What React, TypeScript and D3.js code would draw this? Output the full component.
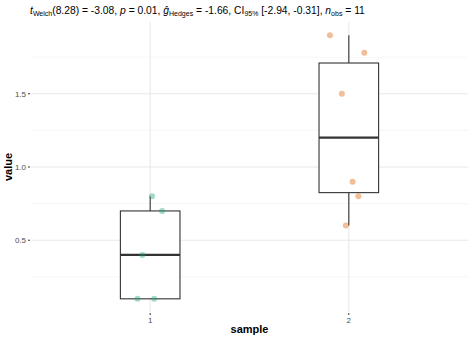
import * as d3 from 'd3';
import React from 'react';

// observations per sample group, with horizontal jitter (in category units)
const groups = ['1', '2'];
const group1Values = [0.8, 0.7, 0.4, 0.1, 0.1];
const group1Jitter = [0.009, 0.06, -0.039, -0.064, 0.02];
const group2Values = [1.9, 1.78, 1.5, 0.9, 0.8, 0.6];
const group2Jitter = [-0.095, 0.078, -0.035, 0.019, 0.048, -0.015];
const groupColors = ['#1b9e77', '#d95f02'];
const yTicks = [0.5, 1.0, 1.5];
const yMinorTicks = [0.25, 0.75, 1.25, 1.75];

const W = 474;
const H = 338;
const margin = { top: 22, right: 6, bottom: 26, left: 31 };

function quantile7(sorted: number[], p: number) {
  return d3.quantileSorted(sorted, p) as number;
}

export default function App() {
  const series = [
    { name: groups[0], values: group1Values, jitter: group1Jitter, color: groupColors[0] },
    { name: groups[1], values: group2Values, jitter: group2Jitter, color: groupColors[1] },
  ];
  const all = series.flatMap(s => s.values);
  const lo = d3.min(all) as number;
  const hi = d3.max(all) as number;
  const pad = (hi - lo) * 0.05;

  const y = d3
    .scaleLinear()
    .domain([lo - pad, hi + pad])
    .range([H - margin.bottom, margin.top]);

  // discrete axis with 0.6 expansion on each side
  const x = d3
    .scaleLinear()
    .domain([0.4, groups.length + 0.6])
    .range([margin.left, W - margin.right]);

  const boxHalf = (x(1.15) - x(1)) as number;
  const font = '"Liberation Sans", Arial, sans-serif';

  return (
    <svg width={W} height={H} style={{ position: 'absolute', left: 0, top: 0, background: '#fff' }} fontFamily={font}>
      {/* grid */}
      {yMinorTicks.map(t => (
        <line key={'mn' + t} x1={margin.left} x2={W - margin.right} y1={y(t)} y2={y(t)} stroke="#f0f0f0" strokeWidth={0.6} />
      ))}
      {yTicks.map(t => (
        <line key={'mj' + t} x1={margin.left} x2={W - margin.right} y1={y(t)} y2={y(t)} stroke="#e8e8e8" strokeWidth={1.1} />
      ))}
      {groups.map((g, i) => (
        <line key={'vx' + g} x1={x(i + 1)} x2={x(i + 1)} y1={margin.top} y2={H - margin.bottom} stroke="#e8e8e8" strokeWidth={1.1} />
      ))}

      {/* boxplots */}
      {series.map((s, i) => {
        const sorted = [...s.values].sort(d3.ascending);
        const q1 = quantile7(sorted, 0.25);
        const med = quantile7(sorted, 0.5);
        const q3 = quantile7(sorted, 0.75);
        const iqr = q3 - q1;
        const wLo = d3.min(sorted.filter(v => v >= q1 - 1.5 * iqr)) as number;
        const wHi = d3.max(sorted.filter(v => v <= q3 + 1.5 * iqr)) as number;
        const cx = x(i + 1);
        return (
          <g key={'box' + s.name} stroke="#333333" fill="none">
            <line x1={cx} x2={cx} y1={y(q3)} y2={y(wHi)} strokeWidth={1.1} />
            <line x1={cx} x2={cx} y1={y(q1)} y2={y(wLo)} strokeWidth={1.1} />
            <rect x={cx - boxHalf} y={y(q3)} width={boxHalf * 2} height={y(q1) - y(q3)} fill="#fff" strokeWidth={1.1} />
            <line x1={cx - boxHalf} x2={cx + boxHalf} y1={y(med)} y2={y(med)} strokeWidth={2.2} />
          </g>
        );
      })}

      {/* points */}
      {series.map((s, i) =>
        s.values.map((v, j) => (
          <circle key={'pt' + i + '-' + j} cx={x(i + 1 + s.jitter[j])} cy={y(v)} r={3} fill={s.color} fillOpacity={0.4} />
        ))
      )}

      {/* y axis */}
      {yTicks.map(t => (
        <g key={'yt' + t}>
          <line x1={margin.left - 3} x2={margin.left - 1} y1={y(t)} y2={y(t)} stroke="#333" strokeWidth={1} />
          <text x={margin.left - 5} y={y(t)} dy="0.35em" textAnchor="end" fontSize={8} fill="#4d4d4d">
            {d3.format('.1f')(t)}
          </text>
        </g>
      ))}
      {/* x axis */}
      {groups.map((g, i) => (
        <g key={'xt' + g}>
          <line x1={x(i + 1)} x2={x(i + 1)} y1={H - margin.bottom + 1} y2={H - margin.bottom + 3} stroke="#333" strokeWidth={1} />
          <text x={x(i + 1)} y={H - margin.bottom + 11} textAnchor="middle" fontSize={8} fill="#4d4d4d">
            {g}
          </text>
        </g>
      ))}

      <text x={(margin.left + W - margin.right) / 2} y={H - 5} textAnchor="middle" fontSize={11} fontWeight="bold" fill="#000">
        sample
      </text>
      <text transform={`translate(12,${(margin.top + H - margin.bottom) / 2}) rotate(-90)`} textAnchor="middle" fontSize={11} fontWeight="bold" fill="#000">
        value
      </text>

      {/* subtitle with statistics */}
      <text x={30} y={14} fontSize={10.3} fill="#000">
        <tspan fontStyle="italic">t</tspan>
        <tspan fontSize={7} dy={2}>Welch</tspan>
        <tspan dy={-2}>(8.28) = -3.08, </tspan>
        <tspan fontStyle="italic">p</tspan>
        <tspan> = 0.01, </tspan>
        <tspan fontStyle="italic">ĝ</tspan>
        <tspan fontSize={7} dy={2}>Hedges</tspan>
        <tspan dy={-2}> = -1.66, CI</tspan>
        <tspan fontSize={7} dy={2}>95%</tspan>
        <tspan dy={-2}> [-2.94, -0.31], </tspan>
        <tspan fontStyle="italic">n</tspan>
        <tspan fontSize={7} dy={2}>obs</tspan>
        <tspan dy={-2}> = 11</tspan>
      </text>
    </svg>
  );
}
